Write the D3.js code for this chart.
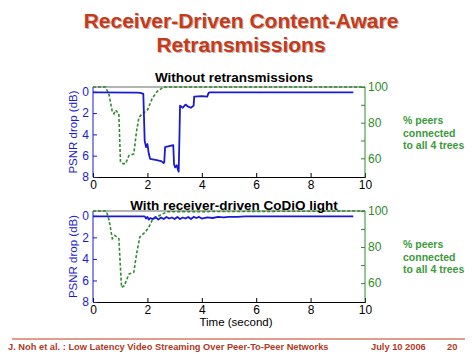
<!doctype html>
<html>
  <head>
    <meta charset="utf-8">
    <title>CoDiO retransmissions</title>
    <script type="text/javascript" src="https://d3js.org/d3.v7.min.js"></script>
    <style>
      body { margin: 0; background: #fff; }
      text { font-family: "Liberation Sans", Arial, Helvetica, sans-serif; }
    </style>
  </head>
  <body>
    <script>
      // time axis ticks and the two y axes
      const timeTicks = [0, 2, 4, 6, 8, 10];
      const psnrTicks = [0, 2, 4, 6, 8];
      const peerTicks = [60, 80, 100];

      // panel 1 : without retransmissions
      const topPsnrTime = [0, 1.6, 1.75, 1.85, 1.9, 1.95, 2.0, 2.05, 2.1, 2.3, 2.5, 2.6, 2.62, 2.65, 2.8, 2.95, 2.98, 3.02, 3.08, 3.12, 3.15, 3.18, 3.2, 3.3, 3.4, 3.5, 3.6, 3.7, 3.72, 4.0, 4.2, 4.25, 4.3, 9.57];
      const topPsnr     = [0.05, 0.07, 0.1, 0.2, 4.6, 5.2, 4.9, 5.8, 6.3, 6.4, 6.5, 6.7, 6.6, 5.2, 5.1, 5.0, 6.8, 7.1, 6.9, 7.3, 7.5, 4.0, 1.3, 1.5, 1.2, 1.4, 1.5, 1.3, 0.45, 0.4, 0.45, 0.1, 0.05, 0.05];
      const topPeerTime = [0, 0.46, 0.59, 0.71, 0.77, 0.83, 0.95, 1.01, 1.1, 1.2, 1.32, 1.5, 1.6, 1.69, 1.81, 2.0, 2.18, 2.36, 2.6, 10];
      const topPeers    = [100, 100, 95.6, 86, 85, 87, 85, 58, 57, 57, 61.5, 62.5, 75, 83, 85, 87, 93.7, 97.5, 100, 100];

      // panel 2 : with receiver-driven CoDiO light
      const botPsnrTime = [0, 1.9, 1.95, 2.0, 2.05, 2.1, 2.2, 2.3, 2.4, 2.5, 2.6, 2.7, 2.8, 2.9, 3.0, 3.1, 3.2, 3.3, 3.4, 3.5, 3.6, 3.7, 3.8, 3.9, 4.0, 4.2, 4.4, 4.6, 4.8, 5.0, 5.3, 5.6, 9.57];
      const botPsnr     = [0.05, 0.05, 0.25, 0.1, 0.35, 0.2, 0.3, 0.1, 0.35, 0.15, 0.3, 0.1, 0.25, 0.15, 0.3, 0.1, 0.3, 0.15, 0.25, 0.1, 0.3, 0.1, 0.2, 0.1, 0.25, 0.15, 0.2, 0.1, 0.15, 0.1, 0.1, 0.05, 0.05];
      const botPeerTime = [0, 0.49, 0.59, 0.71, 0.8, 0.95, 1.05, 1.15, 1.32, 1.5, 1.6, 1.72, 1.93, 2.05, 2.18, 2.48, 2.73, 10];
      const botPeers    = [100, 100, 95, 84.7, 86.5, 84.7, 57.6, 58.5, 65, 66, 76, 85.6, 88.4, 91, 95, 97.8, 99.6, 100];

      const panels = [
        { title: 'Without retransmissions', top: 87, bottom: 177, psnrT: topPsnrTime, psnr: topPsnr, peerT: topPeerTime, peers: topPeers, titleY: 82, legendY: 124 },
        { title: 'With receiver-driven CoDiO light', top: 211, bottom: 302, psnrT: botPsnrTime, psnr: botPsnr, peerT: botPeerTime, peers: botPeers, titleY: 210, legendY: 248 }
      ];

      const width = 474, height = 355;
      const left = 93, right = 365;
      const blue = '#1a1ad0', green = '#2e8b2e', red = '#c63a1a';

      const svg = d3.select('body').append('svg')
          .attr('width', width)
          .attr('height', height);

      // slide title with a soft shadow
      const titleLines = ['Receiver-Driven Content-Aware', 'Retransmissions'];
      titleLines.forEach((t, i) => {
        svg.append('text')
            .attr('x', 242).attr('y', 29 + i * 24)
            .attr('text-anchor', 'middle')
            .attr('font-size', 21).attr('font-weight', 'bold')
            .attr('fill', '#c9b3aa')
            .text(t);
        svg.append('text')
            .attr('x', 241).attr('y', 28 + i * 24)
            .attr('text-anchor', 'middle')
            .attr('font-size', 21).attr('font-weight', 'bold')
            .attr('fill', red)
            .text(t);
      });

      const x = d3.scaleLinear().domain([0, 10]).range([left, right]);

      panels.forEach(p => {
        const yL = d3.scaleLinear().domain([-0.45, 8]).range([p.top, p.bottom]);
        const yR = d3.scaleLinear().domain([100, 49.5]).range([p.top, p.bottom]);
        const g = svg.append('g');

        // frame top
        g.append('line')
            .attr('x1', left).attr('x2', right)
            .attr('y1', p.top).attr('y2', p.top)
            .attr('stroke', '#000').attr('stroke-width', 0.6);

        // bottom axis
        const xAxis = g.append('g')
            .attr('transform', `translate(0,${p.bottom})`)
            .call(d3.axisBottom(x).tickValues(timeTicks).tickSize(-4).tickPadding(3).tickFormat(d3.format('d')));
        xAxis.select('.domain').attr('stroke', '#000');
        xAxis.selectAll('text').attr('font-size', 12).attr('fill', '#000').attr('font-family', 'Liberation Sans, Arial, sans-serif');

        // left axis
        const lAxis = g.append('g')
            .attr('transform', `translate(${left},0)`)
            .call(d3.axisLeft(yL).tickValues(psnrTicks).tickSize(-4).tickPadding(4));
        lAxis.select('.domain').attr('stroke', blue).attr('d', `M0,${p.top}V${p.bottom}`);
        lAxis.selectAll('line').attr('stroke', blue);
        lAxis.selectAll('text').attr('font-size', 12).attr('fill', blue).attr('font-family', 'Liberation Sans, Arial, sans-serif');

        // right axis
        const rAxis = g.append('g')
            .attr('transform', `translate(${right},0)`)
            .call(d3.axisRight(yR).tickValues([60, 70, 80, 90, 100]).tickSize(-4).tickPadding(3)
              .tickFormat(d => peerTicks.includes(d) ? d : ''));
        rAxis.select('.domain').attr('stroke', green).attr('d', `M0,${p.top}V${p.bottom}`);
        rAxis.selectAll('line').attr('stroke', green);
        rAxis.selectAll('text').attr('font-size', 12).attr('fill', green).attr('font-family', 'Liberation Sans, Arial, sans-serif');

        // % peers connected (dashed green)
        g.append('path')
            .datum(p.peerT.map((t, i) => [t, p.peers[i]]))
            .attr('fill', 'none')
            .attr('stroke', green)
            .attr('stroke-width', 1.6)
            .attr('stroke-dasharray', '3,2')
            .attr('d', d3.line().x(d => x(d[0])).y(d => yR(d[1])));

        // PSNR drop (solid blue)
        g.append('path')
            .datum(p.psnrT.map((t, i) => [t, p.psnr[i]]))
            .attr('fill', 'none')
            .attr('stroke', blue)
            .attr('stroke-width', 1.8)
            .attr('stroke-linejoin', 'round')
            .attr('d', d3.line().x(d => x(d[0])).y(d => yL(d[1])));

        // panel title
        g.append('text')
            .attr('x', 234).attr('y', p.titleY)
            .attr('text-anchor', 'middle')
            .attr('font-size', 13.5).attr('font-weight', 'bold')
            .attr('fill', '#000')
            .text(p.title);

        // y label
        g.append('text')
            .attr('transform', `translate(77,${(p.top + p.bottom) / 2}) rotate(-90)`)
            .attr('text-anchor', 'middle')
            .attr('font-size', 11.5)
            .attr('fill', blue)
            .text('PSNR drop (dB)');

        // side note
        ['% peers', 'connected', 'to all 4 trees'].forEach((t, i) => {
          g.append('text')
              .attr('x', 403).attr('y', p.legendY + i * 12.5)
              .attr('font-size', 10.5).attr('font-weight', 'bold')
              .attr('fill', '#3a9a3a')
              .text(t);
        });
      });

      svg.append('text')
          .attr('x', 236).attr('y', 326)
          .attr('text-anchor', 'middle')
          .attr('font-size', 11.5)
          .attr('fill', '#000')
          .text('Time (second)');

      // footer
      svg.append('line')
          .attr('x1', 12).attr('x2', 465)
          .attr('y1', 339).attr('y2', 339)
          .attr('stroke', red).attr('stroke-width', 1);
      const footer = [
        { t: 'J. Noh et al. : Low Latency Video Streaming Over Peer-To-Peer Networks', x: 8 },
        { t: 'July 10 2006', x: 371 },
        { t: '20', x: 447 }
      ];
      footer.forEach(f => {
        svg.append('text')
            .attr('x', f.x).attr('y', 350)
            .attr('font-size', 9.3).attr('font-weight', 'bold')
            .attr('fill', '#b03a1e')
            .text(f.t);
      });
    </script>
  </body>
</html>
